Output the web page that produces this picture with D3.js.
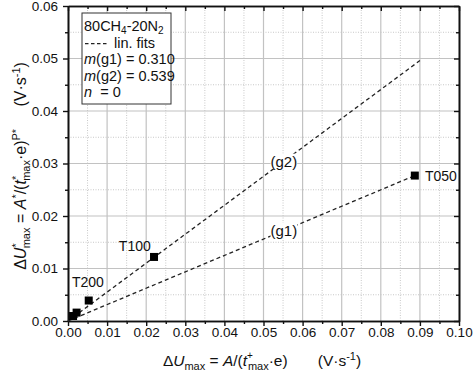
<!DOCTYPE html>
<html>
<head>
<meta charset="utf-8">
<script src="https://cdn.jsdelivr.net/npm/d3@7"></script>
<style>
  body { margin: 0; background: #fff; }
  text { font-family: "Liberation Sans", Arial, sans-serif; fill: #111; }
  .axis text { font-size: 13.5px; }
</style>
</head>
<body>
<div id="chart"></div>
<script>
// Data
const xTicks = [0, 0.01, 0.02, 0.03, 0.04, 0.05, 0.06, 0.07, 0.08, 0.09, 0.10];
const yTicks = [0, 0.01, 0.02, 0.03, 0.04, 0.05, 0.06];
const pointX = [0.0013, 0.0022, 0.0053, 0.022, 0.0887];
const pointY = [0.00095, 0.0016, 0.0039, 0.0122, 0.0277];
// fit lines (start, end)
const fitG1 = [[0, 0], [0.0887, 0.0277]];
const fitG2 = [[0, 0], [0.090, 0.0496]];
// annotations: [label, x, y]
const pointLabels = [["T050", 0.0913, 0.0267], ["T100", 0.013, 0.0134], ["T200", 0.001, 0.0065]];
const lineLabels = [["(g2)", 0.0552, 0.0304], ["(g1)", 0.0552, 0.01725]];
const legendLines = ["80CH4-20N2", "lin. fits", "m(g1) = 0.310", "m(g2) = 0.539", "n = 0"];

const width = 474;
const height = 375;
const margin = { top: 6, right: 15, bottom: 54, left: 68 };

const svg = d3.select("#chart").append("svg")
  .attr("width", width)
  .attr("height", height);

const x = d3.scaleLinear().domain([0, 0.10]).range([margin.left, width - margin.right]);
const y = d3.scaleLinear().domain([0, 0.06]).range([height - margin.bottom, margin.top]);

const minorX = xTicks.slice(0, -1).map((d) => d + 0.005);
const minorY = yTicks.slice(0, -1).map((d) => d + 0.005);

// Grid: minor dotted
svg.append("g").selectAll("line").data(minorX).enter().append("line")
  .attr("x1", (d) => x(d)).attr("x2", (d) => x(d))
  .attr("y1", y(0)).attr("y2", y(0.06))
  .attr("stroke", "#c8c8c8").attr("stroke-width", 1).attr("stroke-dasharray", "1,1.5");
svg.append("g").selectAll("line").data(minorY).enter().append("line")
  .attr("y1", (d) => y(d)).attr("y2", (d) => y(d))
  .attr("x1", x(0)).attr("x2", x(0.10))
  .attr("stroke", "#c8c8c8").attr("stroke-width", 1).attr("stroke-dasharray", "1,1.5");

// Grid: major solid
svg.append("g").selectAll("line").data(xTicks.slice(1, -1)).enter().append("line")
  .attr("x1", (d) => x(d)).attr("x2", (d) => x(d))
  .attr("y1", y(0)).attr("y2", y(0.06))
  .attr("stroke", "#c2c2c2").attr("stroke-width", 1.2);
svg.append("g").selectAll("line").data(yTicks.slice(1, -1)).enter().append("line")
  .attr("y1", (d) => y(d)).attr("y2", (d) => y(d))
  .attr("x1", x(0)).attr("x2", x(0.10))
  .attr("stroke", "#c2c2c2").attr("stroke-width", 1.2);

// Axes
function styleAxis(g) {
  g.attr("class", "axis").attr("font-size", null).attr("font-family", null);
  g.select(".domain").attr("stroke", "#111").attr("stroke-width", 1.6);
  g.selectAll(".tick line").attr("stroke", "#111").attr("stroke-width", 1.4);
  g.selectAll(".tick text").attr("fill", "#111");
}

svg.append("g").attr("transform", `translate(0,${y(0)})`)
  .call(d3.axisBottom(x).tickValues(xTicks).tickFormat(d3.format(".2f")).tickSize(5).tickSizeOuter(0).tickPadding(1))
  .call(styleAxis);
svg.append("g").attr("transform", `translate(0,${y(0)})`)
  .call(d3.axisBottom(x).tickValues(minorX).tickFormat("").tickSize(3).tickSizeOuter(0))
  .call(styleAxis);
svg.append("g").attr("transform", `translate(${x(0)},0)`)
  .call(d3.axisLeft(y).tickValues(yTicks).tickFormat(d3.format(".2f")).tickSize(5).tickSizeOuter(0).tickPadding(5))
  .call(styleAxis);
svg.append("g").attr("transform", `translate(${x(0)},0)`)
  .call(d3.axisLeft(y).tickValues(minorY).tickFormat("").tickSize(3).tickSizeOuter(0))
  .call(styleAxis);
// top and right, ticks inward
svg.append("g").attr("transform", `translate(0,${y(0.06)})`)
  .call(d3.axisBottom(x).tickValues(xTicks).tickFormat("").tickSize(5).tickSizeOuter(0))
  .call(styleAxis);
svg.append("g").attr("transform", `translate(0,${y(0.06)})`)
  .call(d3.axisBottom(x).tickValues(minorX).tickFormat("").tickSize(3).tickSizeOuter(0))
  .call(styleAxis);
svg.append("g").attr("transform", `translate(${x(0.10)},0)`)
  .call(d3.axisLeft(y).tickValues(yTicks).tickFormat("").tickSize(5).tickSizeOuter(0))
  .call(styleAxis);
svg.append("g").attr("transform", `translate(${x(0.10)},0)`)
  .call(d3.axisLeft(y).tickValues(minorY).tickFormat("").tickSize(3).tickSizeOuter(0))
  .call(styleAxis);

// Fit lines
const line = d3.line().x((d) => x(d[0])).y((d) => y(d[1]));
[fitG1, fitG2].forEach((f) => {
  svg.append("path").datum(f).attr("d", line)
    .attr("fill", "none").attr("stroke", "#222").attr("stroke-width", 1.3)
    .attr("stroke-dasharray", "4,3");
});

// Line labels with white background, sitting on the lines
lineLabels.forEach((d) => {
  const g = svg.append("g");
  const t = g.append("text")
    .attr("x", x(d[1])).attr("y", y(d[2]))
    .attr("text-anchor", "middle").attr("dy", "0.35em")
    .style("font-size", "15px").text(d[0]);
  const bb = t.node().getBBox();
  g.insert("rect", "text").attr("x", bb.x).attr("y", bb.y + 1)
    .attr("width", bb.width).attr("height", bb.height - 2).attr("fill", "#fff");
});

// Points
const points = pointX.map((d, i) => [d, pointY[i]]);
svg.append("g").selectAll("rect").data(points).enter().append("rect")
  .attr("x", (d) => x(d[0]) - 4).attr("y", (d) => y(d[1]) - 4)
  .attr("width", 8).attr("height", 8).attr("fill", "#000");

// Point labels
svg.append("g").selectAll("text").data(pointLabels).enter().append("text")
  .attr("x", (d) => x(d[1])).attr("y", (d) => y(d[2]))
  .style("font-size", "14px")
  .text((d) => d[0]);

// Legend
const lg = svg.append("g");
lg.append("rect").attr("x", 82).attr("y", 13).attr("width", 89).attr("height", 91)
  .attr("fill", "#fff").attr("stroke", "#333").attr("stroke-width", 1);
const lx = 84;
const ly = (i) => 31 + i * 16.6;
const fs = "14.5px";
const t0 = lg.append("text").attr("x", lx).attr("y", ly(0)).style("font-size", fs);
t0.append("tspan").text("80CH");
t0.append("tspan").attr("dy", 3).style("font-size", "10px").text("4");
t0.append("tspan").attr("dy", -3).text("-20N");
t0.append("tspan").attr("dy", 3).style("font-size", "10px").text("2");
lg.append("line").attr("x1", lx + 1).attr("x2", lx + 24).attr("y1", ly(1) - 4).attr("y2", ly(1) - 4)
  .attr("stroke", "#222").attr("stroke-width", 1.3).attr("stroke-dasharray", "3.5,2.5");
lg.append("text").attr("x", lx + 30).attr("y", ly(1)).style("font-size", fs).text(legendLines[1]);
[2, 3].forEach((i) => {
  const t = lg.append("text").attr("x", lx).attr("y", ly(i)).style("font-size", fs);
  t.append("tspan").style("font-style", "italic").text(legendLines[i].slice(0, 1));
  t.append("tspan").text(legendLines[i].slice(1));
});
const t4 = lg.append("text").attr("x", lx).attr("y", ly(4)).style("font-size", fs);
t4.append("tspan").style("font-style", "italic").text("n");
t4.append("tspan").text("\u00a0 = 0");

// X axis title
const xt = svg.append("text").attr("x", 262).attr("y", 366).attr("text-anchor", "middle").style("font-size", "15.5px");
xt.append("tspan").text("\u0394");
xt.append("tspan").style("font-style", "italic").text("U");
xt.append("tspan").attr("dy", 4).style("font-size", "11px").text("max");
xt.append("tspan").attr("dy", -4).text(" = ");
xt.append("tspan").style("font-style", "italic").text("A");
xt.append("tspan").text("/(");
xt.append("tspan").style("font-style", "italic").text("t");
xt.append("tspan").attr("dy", -7).style("font-size", "10px").text("+");
xt.append("tspan").attr("dx", -5).attr("dy", 11).style("font-size", "11px").text("max");
xt.append("tspan").attr("dy", -4).text("\u00b7e)\u00a0\u00a0\u00a0\u00a0\u00a0\u00a0 (V\u00b7s");
xt.append("tspan").attr("dy", -6).style("font-size", "11px").text("-1");
xt.append("tspan").attr("dy", 6).text(")");

// Y axis title
const yt = svg.append("text").attr("transform", "translate(26,166) rotate(-90)")
  .attr("text-anchor", "middle").style("font-size", "16px");
yt.append("tspan").text("\u0394");
yt.append("tspan").style("font-style", "italic").text("U");
yt.append("tspan").attr("dy", -6).style("font-size", "11px").text("*");
yt.append("tspan").attr("dx", -5).attr("dy", 10).style("font-size", "11px").text("max");
yt.append("tspan").attr("dy", -4).text(" = ");
yt.append("tspan").style("font-style", "italic").text("A");
yt.append("tspan").attr("dy", -6).style("font-size", "11px").text("*");
yt.append("tspan").attr("dy", 6).text("/(");
yt.append("tspan").style("font-style", "italic").text("t");
yt.append("tspan").attr("dy", -6).style("font-size", "11px").text("*");
yt.append("tspan").attr("dx", -5).attr("dy", 10).style("font-size", "11px").text("max");
yt.append("tspan").attr("dy", -4).text("\u00b7e)");
yt.append("tspan").attr("dy", -6).style("font-size", "11px").text("P*");
yt.append("tspan").attr("dy", 6).text("\u00a0\u00a0\u00a0\u00a0 (V\u00b7s");
yt.append("tspan").attr("dy", -6).style("font-size", "11px").text("-1");
yt.append("tspan").attr("dy", 6).text(")");
</script>
</body>
</html>
